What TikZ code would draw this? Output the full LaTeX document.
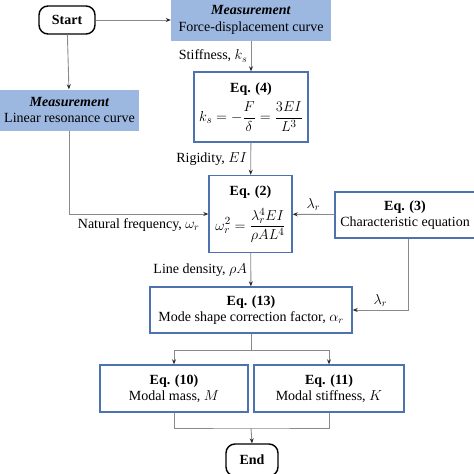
\documentclass[tikz,border=0pt]{standalone}
\usepackage{amsmath}
\usepackage{fontspec}
\setmainfont{Liberation Serif}
\usepackage{xcolor}
\usetikzlibrary{arrows.meta, positioning, calc}

\definecolor{measblue}{HTML}{9DB8E0}
\definecolor{eqblue}{HTML}{4E72AE}
\definecolor{linegray}{HTML}{8A8A8A}

\newcommand{\bigmath}[1]{{\fontsize{15}{18}\selectfont$#1$}}

\begin{document}
\begin{tikzpicture}[
    x=1pt, y=-1pt,
    font=\fontsize{14}{16.5}\selectfont,
    >={Stealth[length=5pt,width=4pt,color=black!85]},
    flow/.style={draw=linegray, line width=0.9pt},
    terminal/.style={draw=black, line width=1.4pt, rounded corners=9pt, inner sep=0pt, font=\fontsize{14}{16.5}\selectfont\bfseries},
    measbox/.style={fill=measblue, inner sep=0pt, align=center},
    eqbox/.style={draw=eqblue, line width=1.4pt, fill=white, inner sep=0pt, align=center}
]
\useasboundingbox (0,0) rectangle (474,474);

% Terminals
\node[terminal, minimum width=56pt, minimum height=28pt] (start) at (67,20) {Start};
\node[terminal, minimum width=52pt, minimum height=32pt] (end) at (252,460) {End};

% Measurements
\node[measbox, minimum width=160pt, minimum height=41pt] (force) at (251,20)
    {\textbf{\textit{Measurement}}\\Force-displacement curve};
\node[measbox, minimum width=139pt, minimum height=41pt] (reson) at (69.5,110)
    {\textbf{\textit{Measurement}}\\Linear resonance curve};

% Equations
\node[eqbox, minimum width=114pt, minimum height=70pt] (eq4) at (251,107)
    {\textbf{Eq. (4)}\\[6pt]\bigmath{k_s=-\dfrac{F}{\delta}=\dfrac{3EI}{L^3}}};
\node[eqbox, minimum width=83pt, minimum height=77pt] (eq2) at (250.5,214)
    {\textbf{Eq. (2)}\\[9pt]\bigmath{\omega_r^2=\dfrac{\lambda_r^4EI}{\rho AL^4}}};
\node[eqbox, minimum width=140pt, minimum height=46pt] (eq3) at (405,215)
    {\textbf{Eq. (3)}\\Characteristic equation};
\node[eqbox, minimum width=202pt, minimum height=46pt] (eq13) at (251,310)
    {\textbf{Eq. (13)}\\Mode shape correction factor, $\alpha_r$};
\node[eqbox, minimum width=148pt, minimum height=47pt] (eq10) at (174,388.5)
    {\textbf{Eq. (10)}\\Modal mass, $M$};
\node[eqbox, minimum width=150pt, minimum height=47pt] (eq11) at (329,388.5)
    {\textbf{Eq. (11)}\\Modal stiffness, $K$};

\coordinate (split) at (251,350);
\coordinate (join) at (251,428);

% Connectors
\draw[flow, ->] (start) -- (force);
\draw[flow, ->] (start) -- (reson);
\draw[flow, ->] (force) -- node[left] {Stiffness, $k_s$} (eq4);
\draw[flow, ->] (eq4) -- node[left] {Rigidity, $EI$} (eq2);
\draw[flow, ->] (eq2) -- node[left] {Line density, $\rho A$} (eq13);
\draw[flow, ->] (eq3) -- node[above] {$\lambda_r$} (eq2);
\draw[flow, ->] (reson.south) |- node[pos=1, below left, xshift=-5pt, yshift=-1pt] {Natural frequency, $\omega_r$} (eq2.west);
\draw[flow, ->] ([xshift=3pt]eq3.south) |- node[pos=0.75, above] {$\lambda_r$} (eq13.east);
\draw[flow] (eq13.south) -- (split);
\draw[flow, ->] (split) -| (eq10.north);
\draw[flow, ->] (split) -| (eq11.north);
\draw[flow] (eq10.south) |- (join) -| (eq11.south);
\draw[flow, ->] (join) -- (end.north);

\end{tikzpicture}
\end{document}
